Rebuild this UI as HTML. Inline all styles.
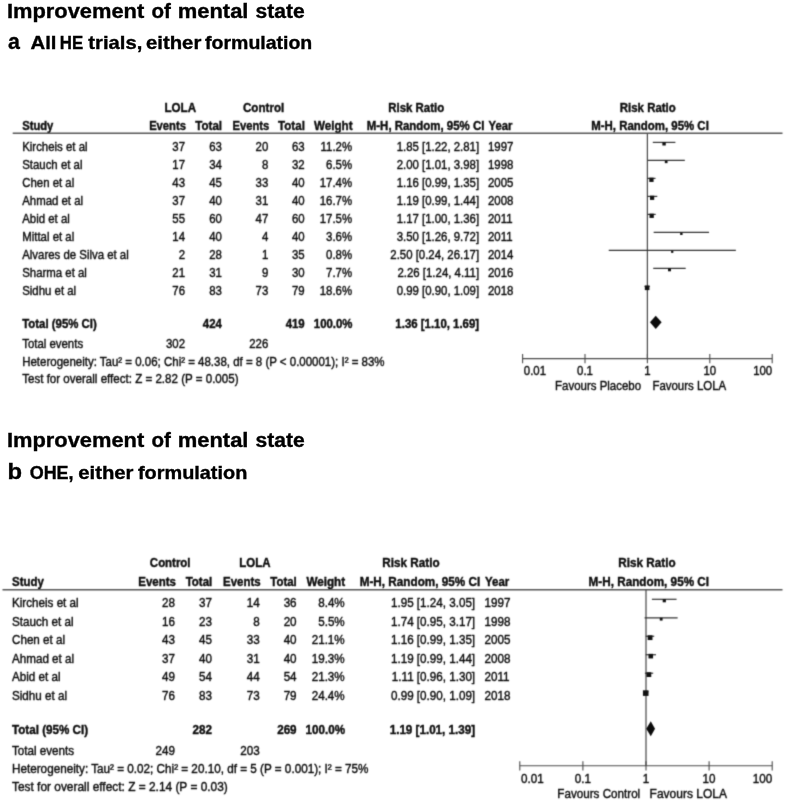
<!DOCTYPE html>
<html lang="en">
<head>
<meta charset="utf-8">
<title>Improvement of mental state - forest plots</title>
<style>
html,body{margin:0;padding:0;background:#fff;}
body{width:785px;height:803px;overflow:hidden;}
svg{display:block;font-family:"Liberation Sans",Arial,Helvetica,sans-serif;}
text{stroke:#0c0c0c;stroke-width:0.4px;}
text.h{stroke:#000;stroke-width:0.35px;}
</style>
</head>
<body>
<svg width="785" height="803" viewBox="0 0 785 803">
<defs>
<filter id="soft" x="0" y="0" width="785" height="803" filterUnits="userSpaceOnUse" color-interpolation-filters="sRGB">
<feConvolveMatrix order="3" kernelMatrix="0.0243 0.1072 0.0243 0.1072 0.4741 0.1072 0.0243 0.1072 0.0243" edgeMode="duplicate" preserveAlpha="false"/>
</filter>
</defs>
<rect width="785" height="803" fill="#ffffff"/>
<text class="h" y="17.6" font-size="19.4" font-weight="bold" fill="#000"><tspan x="6.93" textLength="137.33" lengthAdjust="spacingAndGlyphs">Improvement</tspan> <tspan x="151.60" textLength="19.36" lengthAdjust="spacingAndGlyphs">of</tspan> <tspan x="177.65" textLength="70.81" lengthAdjust="spacingAndGlyphs">mental</tspan> <tspan x="255.56" textLength="49.16" lengthAdjust="spacingAndGlyphs">state</tspan></text>
<text class="h" y="49.0" font-size="22" font-weight="bold" fill="#000"><tspan x="7.98" textLength="11.90" lengthAdjust="spacingAndGlyphs">a</tspan></text>
<text class="h" y="49.0" font-size="17.8" font-weight="bold" fill="#000"><tspan x="30.49" textLength="25.95" lengthAdjust="spacingAndGlyphs">All</tspan> <tspan x="59.87" textLength="23.39" lengthAdjust="spacingAndGlyphs">HE</tspan> <tspan x="88.36" textLength="54.00" lengthAdjust="spacingAndGlyphs">trials,</tspan> <tspan x="146.01" textLength="55.30" lengthAdjust="spacingAndGlyphs">either</tspan> <tspan x="205.07" textLength="107.23" lengthAdjust="spacingAndGlyphs">formulation</tspan></text>
<text class="h" y="447.4" font-size="19.4" font-weight="bold" fill="#000"><tspan x="6.93" textLength="137.33" lengthAdjust="spacingAndGlyphs">Improvement</tspan> <tspan x="151.60" textLength="19.36" lengthAdjust="spacingAndGlyphs">of</tspan> <tspan x="177.65" textLength="70.81" lengthAdjust="spacingAndGlyphs">mental</tspan> <tspan x="255.56" textLength="49.16" lengthAdjust="spacingAndGlyphs">state</tspan></text>
<text class="h" y="479.4" font-size="21.5" font-weight="bold" fill="#000"><tspan x="7.43" textLength="14.54" lengthAdjust="spacingAndGlyphs">b</tspan></text>
<text class="h" y="479.0" font-size="17.8" font-weight="bold" fill="#000"><tspan x="29.66" textLength="43.94" lengthAdjust="spacingAndGlyphs">OHE,</tspan> <tspan x="78.21" textLength="55.30" lengthAdjust="spacingAndGlyphs">either</tspan> <tspan x="137.96" textLength="109.36" lengthAdjust="spacingAndGlyphs">formulation</tspan></text>
<g filter="url(#soft)">
<text transform="translate(180.30 112.20) scale(0.935 1)" font-size="12.4" font-weight="bold" text-anchor="middle" fill="#0c0c0c">LOLA</text>
<text transform="translate(263.60 112.20) scale(0.935 1)" font-size="12.4" font-weight="bold" text-anchor="middle" fill="#0c0c0c">Control</text>
<text transform="translate(416.20 112.20) scale(0.9242 1)" font-size="12.4" font-weight="bold" text-anchor="middle" fill="#0c0c0c">Risk Ratio</text>
<text transform="translate(647.80 112.20) scale(0.9242 1)" font-size="12.4" font-weight="bold" text-anchor="middle" fill="#0c0c0c">Risk Ratio</text>
<text transform="translate(22.20 130.00) scale(0.9048 1)" font-size="12.4" font-weight="bold" fill="#0c0c0c">Study</text>
<text transform="translate(185.90 130.00) scale(0.9048 1)" font-size="12.4" font-weight="bold" text-anchor="end" fill="#0c0c0c">Events</text>
<text transform="translate(222.10 130.00) scale(0.935 1)" font-size="12.4" font-weight="bold" text-anchor="end" fill="#0c0c0c">Total</text>
<text transform="translate(269.20 130.00) scale(0.9048 1)" font-size="12.4" font-weight="bold" text-anchor="end" fill="#0c0c0c">Events</text>
<text transform="translate(304.90 130.00) scale(0.935 1)" font-size="12.4" font-weight="bold" text-anchor="end" fill="#0c0c0c">Total</text>
<text transform="translate(352.50 130.00) scale(0.936468 1)" font-size="12.4" font-weight="bold" text-anchor="end" fill="#0c0c0c">Weight</text>
<text transform="translate(484.40 130.00) scale(0.9242 1)" font-size="12.4" font-weight="bold" text-anchor="end" fill="#0c0c0c">M-H, Random, 95% CI</text>
<text transform="translate(488.60 130.00) scale(0.9048 1)" font-size="12.4" font-weight="bold" fill="#0c0c0c">Year</text>
<text transform="translate(650.00 130.00) scale(0.9242 1)" font-size="12.4" font-weight="bold" text-anchor="middle" fill="#0c0c0c">M-H, Random, 95% CI</text>
<line x1="12.70" y1="133.30" x2="782.50" y2="133.30" stroke="#555" stroke-width="1.5"/>
<line x1="647.40" y1="133.30" x2="647.40" y2="358.60" stroke="#4a4a4a" stroke-width="1.25"/>
<text transform="translate(22.20 150.50) scale(0.9213 1)" font-size="12.4" fill="#0c0c0c">Kircheis et al</text>
<text transform="translate(185.00 150.50) scale(0.9213 1)" font-size="12.4" text-anchor="end" fill="#0c0c0c">37</text>
<text transform="translate(221.90 150.50) scale(0.9213 1)" font-size="12.4" text-anchor="end" fill="#0c0c0c">63</text>
<text transform="translate(268.30 150.50) scale(0.9213 1)" font-size="12.4" text-anchor="end" fill="#0c0c0c">20</text>
<text transform="translate(304.70 150.50) scale(0.9213 1)" font-size="12.4" text-anchor="end" fill="#0c0c0c">63</text>
<text transform="translate(352.10 150.50) scale(0.9213 1)" font-size="12.4" text-anchor="end" fill="#0c0c0c">11.2%</text>
<text transform="translate(479.10 150.50) scale(0.9213 1)" font-size="12.4" text-anchor="end" fill="#0c0c0c">1.85 [1.22, 2.81]</text>
<text transform="translate(488.00 150.50) scale(0.9213 1)" font-size="12.4" fill="#0c0c0c">1997</text>
<line x1="652.79" y1="142.40" x2="675.40" y2="142.40" stroke="#333" stroke-width="1.2"/>
<rect x="662.37" y="142.10" width="3.40" height="3.40" fill="#111"/>
<text transform="translate(22.20 168.50) scale(0.9213 1)" font-size="12.4" fill="#0c0c0c">Stauch et al</text>
<text transform="translate(185.00 168.50) scale(0.9213 1)" font-size="12.4" text-anchor="end" fill="#0c0c0c">17</text>
<text transform="translate(221.90 168.50) scale(0.9213 1)" font-size="12.4" text-anchor="end" fill="#0c0c0c">34</text>
<text transform="translate(268.30 168.50) scale(0.9213 1)" font-size="12.4" text-anchor="end" fill="#0c0c0c">8</text>
<text transform="translate(304.70 168.50) scale(0.9213 1)" font-size="12.4" text-anchor="end" fill="#0c0c0c">32</text>
<text transform="translate(352.10 168.50) scale(0.9213 1)" font-size="12.4" text-anchor="end" fill="#0c0c0c">6.5%</text>
<text transform="translate(479.10 168.50) scale(0.9213 1)" font-size="12.4" text-anchor="end" fill="#0c0c0c">2.00 [1.01, 3.98]</text>
<text transform="translate(488.00 168.50) scale(0.9213 1)" font-size="12.4" fill="#0c0c0c">1998</text>
<line x1="647.67" y1="160.40" x2="684.83" y2="160.40" stroke="#333" stroke-width="1.2"/>
<rect x="664.83" y="160.45" width="2.70" height="2.70" fill="#111"/>
<text transform="translate(22.20 186.50) scale(0.9213 1)" font-size="12.4" fill="#0c0c0c">Chen et al</text>
<text transform="translate(185.00 186.50) scale(0.9213 1)" font-size="12.4" text-anchor="end" fill="#0c0c0c">43</text>
<text transform="translate(221.90 186.50) scale(0.9213 1)" font-size="12.4" text-anchor="end" fill="#0c0c0c">45</text>
<text transform="translate(268.30 186.50) scale(0.9213 1)" font-size="12.4" text-anchor="end" fill="#0c0c0c">33</text>
<text transform="translate(304.70 186.50) scale(0.9213 1)" font-size="12.4" text-anchor="end" fill="#0c0c0c">40</text>
<text transform="translate(352.10 186.50) scale(0.9213 1)" font-size="12.4" text-anchor="end" fill="#0c0c0c">17.4%</text>
<text transform="translate(479.10 186.50) scale(0.9213 1)" font-size="12.4" text-anchor="end" fill="#0c0c0c">1.16 [0.99, 1.35]</text>
<text transform="translate(488.00 186.50) scale(0.9213 1)" font-size="12.4" fill="#0c0c0c">2005</text>
<line x1="647.13" y1="178.40" x2="655.53" y2="178.40" stroke="#333" stroke-width="1.2"/>
<rect x="649.27" y="177.65" width="4.30" height="4.30" fill="#111"/>
<text transform="translate(22.20 204.50) scale(0.9213 1)" font-size="12.4" fill="#0c0c0c">Ahmad et al</text>
<text transform="translate(185.00 204.50) scale(0.9213 1)" font-size="12.4" text-anchor="end" fill="#0c0c0c">37</text>
<text transform="translate(221.90 204.50) scale(0.9213 1)" font-size="12.4" text-anchor="end" fill="#0c0c0c">40</text>
<text transform="translate(268.30 204.50) scale(0.9213 1)" font-size="12.4" text-anchor="end" fill="#0c0c0c">31</text>
<text transform="translate(304.70 204.50) scale(0.9213 1)" font-size="12.4" text-anchor="end" fill="#0c0c0c">40</text>
<text transform="translate(352.10 204.50) scale(0.9213 1)" font-size="12.4" text-anchor="end" fill="#0c0c0c">16.7%</text>
<text transform="translate(479.10 204.50) scale(0.9213 1)" font-size="12.4" text-anchor="end" fill="#0c0c0c">1.19 [0.99, 1.44]</text>
<text transform="translate(488.00 204.50) scale(0.9213 1)" font-size="12.4" fill="#0c0c0c">2008</text>
<line x1="647.13" y1="196.40" x2="657.28" y2="196.40" stroke="#333" stroke-width="1.2"/>
<rect x="650.01" y="195.70" width="4.20" height="4.20" fill="#111"/>
<text transform="translate(22.20 222.50) scale(0.9213 1)" font-size="12.4" fill="#0c0c0c">Abid et al</text>
<text transform="translate(185.00 222.50) scale(0.9213 1)" font-size="12.4" text-anchor="end" fill="#0c0c0c">55</text>
<text transform="translate(221.90 222.50) scale(0.9213 1)" font-size="12.4" text-anchor="end" fill="#0c0c0c">60</text>
<text transform="translate(268.30 222.50) scale(0.9213 1)" font-size="12.4" text-anchor="end" fill="#0c0c0c">47</text>
<text transform="translate(304.70 222.50) scale(0.9213 1)" font-size="12.4" text-anchor="end" fill="#0c0c0c">60</text>
<text transform="translate(352.10 222.50) scale(0.9213 1)" font-size="12.4" text-anchor="end" fill="#0c0c0c">17.5%</text>
<text transform="translate(479.10 222.50) scale(0.9213 1)" font-size="12.4" text-anchor="end" fill="#0c0c0c">1.17 [1.00, 1.36]</text>
<text transform="translate(488.00 222.50) scale(0.9213 1)" font-size="12.4" fill="#0c0c0c">2011</text>
<line x1="647.40" y1="214.40" x2="655.73" y2="214.40" stroke="#333" stroke-width="1.2"/>
<rect x="649.50" y="213.65" width="4.30" height="4.30" fill="#111"/>
<text transform="translate(22.20 240.50) scale(0.9213 1)" font-size="12.4" fill="#0c0c0c">Mittal et al</text>
<text transform="translate(185.00 240.50) scale(0.9213 1)" font-size="12.4" text-anchor="end" fill="#0c0c0c">14</text>
<text transform="translate(221.90 240.50) scale(0.9213 1)" font-size="12.4" text-anchor="end" fill="#0c0c0c">40</text>
<text transform="translate(268.30 240.50) scale(0.9213 1)" font-size="12.4" text-anchor="end" fill="#0c0c0c">4</text>
<text transform="translate(304.70 240.50) scale(0.9213 1)" font-size="12.4" text-anchor="end" fill="#0c0c0c">40</text>
<text transform="translate(352.10 240.50) scale(0.9213 1)" font-size="12.4" text-anchor="end" fill="#0c0c0c">3.6%</text>
<text transform="translate(479.10 240.50) scale(0.9213 1)" font-size="12.4" text-anchor="end" fill="#0c0c0c">3.50 [1.26, 9.72]</text>
<text transform="translate(488.00 240.50) scale(0.9213 1)" font-size="12.4" fill="#0c0c0c">2011</text>
<line x1="653.66" y1="232.40" x2="709.03" y2="232.40" stroke="#333" stroke-width="1.2"/>
<rect x="680.15" y="232.60" width="2.40" height="2.40" fill="#111"/>
<text transform="translate(22.20 258.50) scale(0.9213 1)" font-size="12.4" fill="#0c0c0c">Alvares de Silva et al</text>
<text transform="translate(185.00 258.50) scale(0.9213 1)" font-size="12.4" text-anchor="end" fill="#0c0c0c">2</text>
<text transform="translate(221.90 258.50) scale(0.9213 1)" font-size="12.4" text-anchor="end" fill="#0c0c0c">28</text>
<text transform="translate(268.30 258.50) scale(0.9213 1)" font-size="12.4" text-anchor="end" fill="#0c0c0c">1</text>
<text transform="translate(304.70 258.50) scale(0.9213 1)" font-size="12.4" text-anchor="end" fill="#0c0c0c">35</text>
<text transform="translate(352.10 258.50) scale(0.9213 1)" font-size="12.4" text-anchor="end" fill="#0c0c0c">0.8%</text>
<text transform="translate(479.10 258.50) scale(0.9213 1)" font-size="12.4" text-anchor="end" fill="#0c0c0c">2.50 [0.24, 26.17]</text>
<text transform="translate(488.00 258.50) scale(0.9213 1)" font-size="12.4" fill="#0c0c0c">2014</text>
<line x1="608.73" y1="250.40" x2="735.87" y2="250.40" stroke="#333" stroke-width="1.2"/>
<rect x="671.13" y="250.70" width="2.20" height="2.20" fill="#111"/>
<text transform="translate(22.20 276.50) scale(0.9213 1)" font-size="12.4" fill="#0c0c0c">Sharma et al</text>
<text transform="translate(185.00 276.50) scale(0.9213 1)" font-size="12.4" text-anchor="end" fill="#0c0c0c">21</text>
<text transform="translate(221.90 276.50) scale(0.9213 1)" font-size="12.4" text-anchor="end" fill="#0c0c0c">31</text>
<text transform="translate(268.30 276.50) scale(0.9213 1)" font-size="12.4" text-anchor="end" fill="#0c0c0c">9</text>
<text transform="translate(304.70 276.50) scale(0.9213 1)" font-size="12.4" text-anchor="end" fill="#0c0c0c">30</text>
<text transform="translate(352.10 276.50) scale(0.9213 1)" font-size="12.4" text-anchor="end" fill="#0c0c0c">7.7%</text>
<text transform="translate(479.10 276.50) scale(0.9213 1)" font-size="12.4" text-anchor="end" fill="#0c0c0c">2.26 [1.24, 4.11]</text>
<text transform="translate(488.00 276.50) scale(0.9213 1)" font-size="12.4" fill="#0c0c0c">2016</text>
<line x1="653.23" y1="268.40" x2="685.70" y2="268.40" stroke="#333" stroke-width="1.2"/>
<rect x="668.00" y="268.30" width="3.00" height="3.00" fill="#111"/>
<text transform="translate(22.20 294.50) scale(0.9213 1)" font-size="12.4" fill="#0c0c0c">Sidhu et al</text>
<text transform="translate(185.00 294.50) scale(0.9213 1)" font-size="12.4" text-anchor="end" fill="#0c0c0c">76</text>
<text transform="translate(221.90 294.50) scale(0.9213 1)" font-size="12.4" text-anchor="end" fill="#0c0c0c">83</text>
<text transform="translate(268.30 294.50) scale(0.9213 1)" font-size="12.4" text-anchor="end" fill="#0c0c0c">73</text>
<text transform="translate(304.70 294.50) scale(0.9213 1)" font-size="12.4" text-anchor="end" fill="#0c0c0c">79</text>
<text transform="translate(352.10 294.50) scale(0.9213 1)" font-size="12.4" text-anchor="end" fill="#0c0c0c">18.6%</text>
<text transform="translate(479.10 294.50) scale(0.9213 1)" font-size="12.4" text-anchor="end" fill="#0c0c0c">0.99 [0.90, 1.09]</text>
<text transform="translate(488.00 294.50) scale(0.9213 1)" font-size="12.4" fill="#0c0c0c">2018</text>
<line x1="644.54" y1="286.40" x2="649.74" y2="286.40" stroke="#333" stroke-width="1.2"/>
<rect x="644.83" y="285.50" width="4.60" height="4.60" fill="#111"/>
<text transform="translate(22.20 327.80) scale(0.9213 1)" font-size="12.4" font-weight="bold" fill="#0c0c0c">Total (95% CI)</text>
<text transform="translate(221.90 327.80) scale(0.9213 1)" font-size="12.4" font-weight="bold" text-anchor="end" fill="#0c0c0c">424</text>
<text transform="translate(304.70 327.80) scale(0.9213 1)" font-size="12.4" font-weight="bold" text-anchor="end" fill="#0c0c0c">419</text>
<text transform="translate(352.50 327.80) scale(0.9213 1)" font-size="12.4" font-weight="bold" text-anchor="end" fill="#0c0c0c">100.0%</text>
<text transform="translate(479.10 327.80) scale(0.9213 1)" font-size="12.4" font-weight="bold" text-anchor="end" fill="#0c0c0c">1.36 [1.10, 1.69]</text>
<polygon points="649.98,322.30 655.73,315.70 661.62,322.30 655.73,328.90" fill="#0a0a0a"/>
<text transform="translate(22.20 347.70) scale(0.9213 1)" font-size="12.4" fill="#0c0c0c">Total events</text>
<text transform="translate(185.00 347.70) scale(0.9213 1)" font-size="12.4" text-anchor="end" fill="#0c0c0c">302</text>
<text transform="translate(268.30 347.70) scale(0.9213 1)" font-size="12.4" text-anchor="end" fill="#0c0c0c">226</text>
<text transform="translate(22.20 365.50) scale(0.92710419 1)" font-size="12.4" fill="#0c0c0c">Heterogeneity: Tau² = 0.06; Chi² = 48.38, df = 8 (P &lt; 0.00001); I² = 83%</text>
<text transform="translate(22.20 383.40) scale(0.9341982 1)" font-size="12.4" fill="#0c0c0c">Test for overall effect: Z = 2.82 (P = 0.005)</text>
<line x1="522.60" y1="358.60" x2="772.20" y2="358.60" stroke="#4a4a4a" stroke-width="1.1"/>
<line x1="522.60" y1="354.00" x2="522.60" y2="363.20" stroke="#4a4a4a" stroke-width="1.1"/>
<line x1="585.00" y1="354.00" x2="585.00" y2="363.20" stroke="#4a4a4a" stroke-width="1.1"/>
<line x1="647.40" y1="354.00" x2="647.40" y2="363.20" stroke="#4a4a4a" stroke-width="1.1"/>
<line x1="709.80" y1="354.00" x2="709.80" y2="363.20" stroke="#4a4a4a" stroke-width="1.1"/>
<line x1="772.20" y1="354.00" x2="772.20" y2="363.20" stroke="#4a4a4a" stroke-width="1.1"/>
<text transform="translate(523.80 374.50) scale(0.9213 1)" font-size="12.4" fill="#0c0c0c">0.01</text>
<text transform="translate(585.00 374.50) scale(0.9213 1)" font-size="12.4" text-anchor="middle" fill="#0c0c0c">0.1</text>
<text transform="translate(647.40 374.50) scale(0.9213 1)" font-size="12.4" text-anchor="middle" fill="#0c0c0c">1</text>
<text transform="translate(709.80 374.50) scale(0.9213 1)" font-size="12.4" text-anchor="middle" fill="#0c0c0c">10</text>
<text transform="translate(772.20 374.50) scale(0.9213 1)" font-size="12.4" text-anchor="end" fill="#0c0c0c">100</text>
<text transform="translate(641.00 390.30) scale(0.9242 1)" font-size="12.4" text-anchor="end" fill="#0c0c0c">Favours Placebo</text>
<text transform="translate(652.40 390.30) scale(0.9242 1)" font-size="12.4" fill="#0c0c0c">Favours LOLA</text>
<text transform="translate(170.20 567.20) scale(0.9242 1)" font-size="12.4" font-weight="bold" text-anchor="middle" fill="#0c0c0c">Control</text>
<text transform="translate(254.90 567.20) scale(0.9242 1)" font-size="12.4" font-weight="bold" text-anchor="middle" fill="#0c0c0c">LOLA</text>
<text transform="translate(411.00 567.20) scale(0.9465 1)" font-size="12.4" font-weight="bold" text-anchor="middle" fill="#0c0c0c">Risk Ratio</text>
<text transform="translate(647.00 567.20) scale(0.9465 1)" font-size="12.4" font-weight="bold" text-anchor="middle" fill="#0c0c0c">Risk Ratio</text>
<text transform="translate(12.00 585.90) scale(0.9242 1)" font-size="12.4" font-weight="bold" fill="#0c0c0c">Study</text>
<text transform="translate(175.90 585.90) scale(0.9242 1)" font-size="12.4" font-weight="bold" text-anchor="end" fill="#0c0c0c">Events</text>
<text transform="translate(212.20 585.90) scale(0.9242 1)" font-size="12.4" font-weight="bold" text-anchor="end" fill="#0c0c0c">Total</text>
<text transform="translate(260.60 585.90) scale(0.9242 1)" font-size="12.4" font-weight="bold" text-anchor="end" fill="#0c0c0c">Events</text>
<text transform="translate(296.80 585.90) scale(0.9242 1)" font-size="12.4" font-weight="bold" text-anchor="end" fill="#0c0c0c">Total</text>
<text transform="translate(345.10 585.90) scale(0.9426840000000001 1)" font-size="12.4" font-weight="bold" text-anchor="end" fill="#0c0c0c">Weight</text>
<text transform="translate(480.20 585.90) scale(0.9465 1)" font-size="12.4" font-weight="bold" text-anchor="end" fill="#0c0c0c">M-H, Random, 95% CI</text>
<text transform="translate(485.10 585.90) scale(0.9242 1)" font-size="12.4" font-weight="bold" fill="#0c0c0c">Year</text>
<text transform="translate(648.80 585.90) scale(0.9465 1)" font-size="12.4" font-weight="bold" text-anchor="middle" fill="#0c0c0c">M-H, Random, 95% CI</text>
<line x1="2.50" y1="589.80" x2="782.50" y2="589.80" stroke="#555" stroke-width="1.5"/>
<line x1="646.00" y1="589.80" x2="646.00" y2="765.80" stroke="#4a4a4a" stroke-width="1.25"/>
<text transform="translate(12.00 607.20) scale(0.94 1)" font-size="12.4" fill="#0c0c0c">Kircheis et al</text>
<text transform="translate(175.00 607.20) scale(0.94 1)" font-size="12.4" text-anchor="end" fill="#0c0c0c">28</text>
<text transform="translate(212.00 607.20) scale(0.94 1)" font-size="12.4" text-anchor="end" fill="#0c0c0c">37</text>
<text transform="translate(259.70 607.20) scale(0.94 1)" font-size="12.4" text-anchor="end" fill="#0c0c0c">14</text>
<text transform="translate(296.60 607.20) scale(0.94 1)" font-size="12.4" text-anchor="end" fill="#0c0c0c">36</text>
<text transform="translate(344.70 607.20) scale(0.94 1)" font-size="12.4" text-anchor="end" fill="#0c0c0c">8.4%</text>
<text transform="translate(475.10 607.20) scale(0.94 1)" font-size="12.4" text-anchor="end" fill="#0c0c0c">1.95 [1.24, 3.05]</text>
<text transform="translate(484.50 607.20) scale(0.94 1)" font-size="12.4" fill="#0c0c0c">1997</text>
<line x1="651.89" y1="599.30" x2="676.56" y2="599.30" stroke="#333" stroke-width="1.2"/>
<rect x="662.70" y="599.10" width="3.20" height="3.20" fill="#111"/>
<text transform="translate(12.00 625.68) scale(0.94 1)" font-size="12.4" fill="#0c0c0c">Stauch et al</text>
<text transform="translate(175.00 625.68) scale(0.94 1)" font-size="12.4" text-anchor="end" fill="#0c0c0c">16</text>
<text transform="translate(212.00 625.68) scale(0.94 1)" font-size="12.4" text-anchor="end" fill="#0c0c0c">23</text>
<text transform="translate(259.70 625.68) scale(0.94 1)" font-size="12.4" text-anchor="end" fill="#0c0c0c">8</text>
<text transform="translate(296.60 625.68) scale(0.94 1)" font-size="12.4" text-anchor="end" fill="#0c0c0c">20</text>
<text transform="translate(344.70 625.68) scale(0.94 1)" font-size="12.4" text-anchor="end" fill="#0c0c0c">5.5%</text>
<text transform="translate(475.10 625.68) scale(0.94 1)" font-size="12.4" text-anchor="end" fill="#0c0c0c">1.74 [0.95, 3.17]</text>
<text transform="translate(484.50 625.68) scale(0.94 1)" font-size="12.4" fill="#0c0c0c">1998</text>
<line x1="644.59" y1="617.78" x2="677.62" y2="617.78" stroke="#333" stroke-width="1.2"/>
<rect x="659.78" y="617.78" width="2.80" height="2.80" fill="#111"/>
<text transform="translate(12.00 644.16) scale(0.94 1)" font-size="12.4" fill="#0c0c0c">Chen et al</text>
<text transform="translate(175.00 644.16) scale(0.94 1)" font-size="12.4" text-anchor="end" fill="#0c0c0c">43</text>
<text transform="translate(212.00 644.16) scale(0.94 1)" font-size="12.4" text-anchor="end" fill="#0c0c0c">45</text>
<text transform="translate(259.70 644.16) scale(0.94 1)" font-size="12.4" text-anchor="end" fill="#0c0c0c">33</text>
<text transform="translate(296.60 644.16) scale(0.94 1)" font-size="12.4" text-anchor="end" fill="#0c0c0c">40</text>
<text transform="translate(344.70 644.16) scale(0.94 1)" font-size="12.4" text-anchor="end" fill="#0c0c0c">21.1%</text>
<text transform="translate(475.10 644.16) scale(0.94 1)" font-size="12.4" text-anchor="end" fill="#0c0c0c">1.16 [0.99, 1.35]</text>
<text transform="translate(484.50 644.16) scale(0.94 1)" font-size="12.4" fill="#0c0c0c">2005</text>
<line x1="645.72" y1="636.26" x2="654.22" y2="636.26" stroke="#333" stroke-width="1.2"/>
<rect x="647.67" y="635.26" width="4.80" height="4.80" fill="#111"/>
<text transform="translate(12.00 662.64) scale(0.94 1)" font-size="12.4" fill="#0c0c0c">Ahmad et al</text>
<text transform="translate(175.00 662.64) scale(0.94 1)" font-size="12.4" text-anchor="end" fill="#0c0c0c">37</text>
<text transform="translate(212.00 662.64) scale(0.94 1)" font-size="12.4" text-anchor="end" fill="#0c0c0c">40</text>
<text transform="translate(259.70 662.64) scale(0.94 1)" font-size="12.4" text-anchor="end" fill="#0c0c0c">31</text>
<text transform="translate(296.60 662.64) scale(0.94 1)" font-size="12.4" text-anchor="end" fill="#0c0c0c">40</text>
<text transform="translate(344.70 662.64) scale(0.94 1)" font-size="12.4" text-anchor="end" fill="#0c0c0c">19.3%</text>
<text transform="translate(475.10 662.64) scale(0.94 1)" font-size="12.4" text-anchor="end" fill="#0c0c0c">1.19 [0.99, 1.44]</text>
<text transform="translate(484.50 662.64) scale(0.94 1)" font-size="12.4" fill="#0c0c0c">2008</text>
<line x1="645.72" y1="654.74" x2="655.99" y2="654.74" stroke="#333" stroke-width="1.2"/>
<rect x="648.47" y="653.84" width="4.60" height="4.60" fill="#111"/>
<text transform="translate(12.00 681.12) scale(0.94 1)" font-size="12.4" fill="#0c0c0c">Abid et al</text>
<text transform="translate(175.00 681.12) scale(0.94 1)" font-size="12.4" text-anchor="end" fill="#0c0c0c">49</text>
<text transform="translate(212.00 681.12) scale(0.94 1)" font-size="12.4" text-anchor="end" fill="#0c0c0c">54</text>
<text transform="translate(259.70 681.12) scale(0.94 1)" font-size="12.4" text-anchor="end" fill="#0c0c0c">44</text>
<text transform="translate(296.60 681.12) scale(0.94 1)" font-size="12.4" text-anchor="end" fill="#0c0c0c">54</text>
<text transform="translate(344.70 681.12) scale(0.94 1)" font-size="12.4" text-anchor="end" fill="#0c0c0c">21.3%</text>
<text transform="translate(475.10 681.12) scale(0.94 1)" font-size="12.4" text-anchor="end" fill="#0c0c0c">1.11 [0.96, 1.30]</text>
<text transform="translate(484.50 681.12) scale(0.94 1)" font-size="12.4" fill="#0c0c0c">2011</text>
<line x1="644.88" y1="673.22" x2="653.19" y2="673.22" stroke="#333" stroke-width="1.2"/>
<rect x="646.46" y="672.22" width="4.80" height="4.80" fill="#111"/>
<text transform="translate(12.00 699.60) scale(0.94 1)" font-size="12.4" fill="#0c0c0c">Sidhu et al</text>
<text transform="translate(175.00 699.60) scale(0.94 1)" font-size="12.4" text-anchor="end" fill="#0c0c0c">76</text>
<text transform="translate(212.00 699.60) scale(0.94 1)" font-size="12.4" text-anchor="end" fill="#0c0c0c">83</text>
<text transform="translate(259.70 699.60) scale(0.94 1)" font-size="12.4" text-anchor="end" fill="#0c0c0c">73</text>
<text transform="translate(296.60 699.60) scale(0.94 1)" font-size="12.4" text-anchor="end" fill="#0c0c0c">79</text>
<text transform="translate(344.70 699.60) scale(0.94 1)" font-size="12.4" text-anchor="end" fill="#0c0c0c">24.4%</text>
<text transform="translate(475.10 699.60) scale(0.94 1)" font-size="12.4" text-anchor="end" fill="#0c0c0c">0.99 [0.90, 1.09]</text>
<text transform="translate(484.50 699.60) scale(0.94 1)" font-size="12.4" fill="#0c0c0c">2018</text>
<line x1="643.11" y1="691.70" x2="648.36" y2="691.70" stroke="#333" stroke-width="1.2"/>
<rect x="642.92" y="690.30" width="5.60" height="5.60" fill="#111"/>
<text transform="translate(12.00 734.40) scale(0.94 1)" font-size="12.4" font-weight="bold" fill="#0c0c0c">Total (95% CI)</text>
<text transform="translate(212.00 734.40) scale(0.94 1)" font-size="12.4" font-weight="bold" text-anchor="end" fill="#0c0c0c">282</text>
<text transform="translate(296.60 734.40) scale(0.94 1)" font-size="12.4" font-weight="bold" text-anchor="end" fill="#0c0c0c">269</text>
<text transform="translate(345.10 734.40) scale(0.94 1)" font-size="12.4" font-weight="bold" text-anchor="end" fill="#0c0c0c">100.0%</text>
<text transform="translate(475.10 734.40) scale(0.94 1)" font-size="12.4" font-weight="bold" text-anchor="end" fill="#0c0c0c">1.19 [1.01, 1.39]</text>
<polygon points="646.27,728.80 650.77,721.30 655.02,728.80 650.77,736.30" fill="#0a0a0a"/>
<text transform="translate(12.00 754.60) scale(0.94 1)" font-size="12.4" fill="#0c0c0c">Total events</text>
<text transform="translate(175.00 754.60) scale(0.94 1)" font-size="12.4" text-anchor="end" fill="#0c0c0c">249</text>
<text transform="translate(259.70 754.60) scale(0.94 1)" font-size="12.4" text-anchor="end" fill="#0c0c0c">203</text>
<text transform="translate(12.00 772.80) scale(0.9456399999999999 1)" font-size="12.4" fill="#0c0c0c">Heterogeneity: Tau² = 0.02; Chi² = 20.10, df = 5 (P = 0.001); I² = 75%</text>
<text transform="translate(12.00 791.30) scale(0.96068 1)" font-size="12.4" fill="#0c0c0c">Test for overall effect: Z = 2.14 (P = 0.03)</text>
<line x1="519.80" y1="765.80" x2="772.20" y2="765.80" stroke="#4a4a4a" stroke-width="1.1"/>
<line x1="519.80" y1="761.20" x2="519.80" y2="770.40" stroke="#4a4a4a" stroke-width="1.1"/>
<line x1="582.90" y1="761.20" x2="582.90" y2="770.40" stroke="#4a4a4a" stroke-width="1.1"/>
<line x1="646.00" y1="761.20" x2="646.00" y2="770.40" stroke="#4a4a4a" stroke-width="1.1"/>
<line x1="709.10" y1="761.20" x2="709.10" y2="770.40" stroke="#4a4a4a" stroke-width="1.1"/>
<line x1="772.20" y1="761.20" x2="772.20" y2="770.40" stroke="#4a4a4a" stroke-width="1.1"/>
<text transform="translate(521.00 783.30) scale(0.94 1)" font-size="12.4" fill="#0c0c0c">0.01</text>
<text transform="translate(582.90 783.30) scale(0.94 1)" font-size="12.4" text-anchor="middle" fill="#0c0c0c">0.1</text>
<text transform="translate(646.00 783.30) scale(0.94 1)" font-size="12.4" text-anchor="middle" fill="#0c0c0c">1</text>
<text transform="translate(709.10 783.30) scale(0.94 1)" font-size="12.4" text-anchor="middle" fill="#0c0c0c">10</text>
<text transform="translate(772.20 783.30) scale(0.94 1)" font-size="12.4" text-anchor="end" fill="#0c0c0c">100</text>
<text transform="translate(640.20 798.10) scale(0.9406 1)" font-size="12.4" text-anchor="end" fill="#0c0c0c">Favours Control</text>
<text transform="translate(649.60 798.10) scale(0.9677 1)" font-size="12.4" fill="#0c0c0c">Favours LOLA</text>
</g>
</svg>
</body>
</html>
